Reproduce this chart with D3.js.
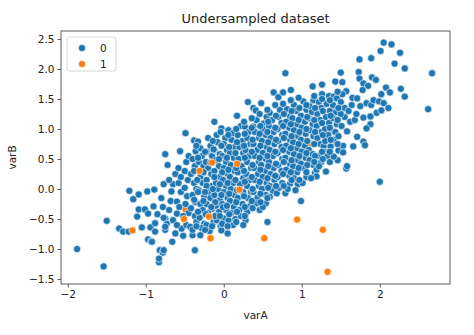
<!DOCTYPE html>
<html>
<head>
<meta charset="utf-8">
<script src="https://cdn.jsdelivr.net/npm/d3@7"></script>
<style>
  html, body { margin: 0; padding: 0; background: #fff; }
  svg { display: block; font-family: "DejaVu Sans", sans-serif; }
</style>
</head>
<body>
<svg id="chart" width="474" height="335"></svg>
<script>
// class 0 samples: [varA, varB]
const class0 = [
  [-1.88,-1.00],[-1.54,-1.29],[-1.50,-0.53],
  [-1.34,-0.66],[-1.29,-0.71],[-1.22,-0.71],[-1.21,-0.03],
  [-1.16,-0.17],[-1.11,-0.46],[-1.09,-0.34],[-1.09,-0.09],[-1.05,-0.64],
  [-1.01,-0.34],[-0.98,-0.04],[-0.97,-0.41],[-0.97,-0.84],[-0.94,-0.64],[-0.93,-0.87],[-0.92,-0.88],
  [-0.89,-0.01],[-0.90,-0.29],[-0.85,-0.42],[-0.88,-0.71],[-0.88,-0.57],[-0.82,-1.02],[-0.78,-1.06],[-0.83,-1.22],[-0.83,-1.16],
  [-0.77,0.08],[-0.75,0.58],[-0.72,0.40],[-0.75,-0.49],[-0.75,-0.68],[-0.73,-0.58],[-0.77,-0.48],[-0.77,-1.02],[-0.75,-0.63],[-0.80,-0.15],[-0.78,-0.30],
  [-0.65,0.08],[-0.67,-0.04],[-0.62,0.25],[-0.65,-0.52],[-0.62,-0.74],[-0.68,-0.20],[-0.70,-0.35],[-0.66,-0.88],[-0.70,0.15],
  [-0.60,-0.21],[-0.60,-0.41],[-0.56,0.63],[-0.58,0.10],[-0.55,-0.05],[-0.57,-0.30],[-0.54,-0.66],[-0.52,-0.78],[-0.58,0.35],[-0.55,0.20],[-0.60,-0.60],
  [-0.49,0.93],[-0.48,0.45],[-0.50,0.30],[-0.46,0.15],[-0.50,0.02],[-0.47,-0.12],[-0.49,-0.25],[-0.45,-0.40],[-0.52,-0.45],[-0.48,-0.60],[-0.43,-0.63],[-0.40,-0.77],[-0.45,0.55],
  [-0.38,0.81],[-0.36,0.63],[-0.40,0.50],[-0.37,0.38],[-0.42,0.25],[-0.38,0.10],[-0.35,0.00],[-0.40,-0.10],[-0.36,-0.22],[-0.42,-0.32],[-0.37,-0.45],[-0.35,-0.55],[-0.37,-1.02],[-0.40,-0.68],
  [-0.33,0.79],[-0.30,0.68],[-0.28,0.55],[-0.32,0.45],[-0.26,0.38],[-0.30,0.20],[-0.27,0.10],[-0.32,-0.02],[-0.25,-0.12],[-0.30,-0.25],[-0.27,-0.35],[-0.31,-0.48],[-0.25,-0.58],[-0.30,-0.77],[-0.28,-0.65],
  [-0.20,0.85],[-0.17,0.72],[-0.22,0.62],[-0.15,0.55],[-0.20,0.35],[-0.16,0.25],[-0.22,0.15],[-0.15,0.05],[-0.20,-0.05],[-0.17,-0.15],[-0.22,-0.25],[-0.15,-0.33],[-0.20,-0.40],[-0.13,-0.55],[-0.22,-0.60],[-0.18,-0.70],
  [-0.12,1.12],[-0.09,0.90],[-0.08,0.78],[-0.12,0.65],[-0.05,0.58],[-0.10,0.48],[-0.06,0.38],[-0.12,0.30],[-0.05,0.20],[-0.10,0.10],[-0.07,0.00],[-0.12,-0.10],[-0.05,-0.18],[-0.10,-0.28],[-0.06,-0.38],[-0.12,-0.45],[-0.09,-0.52],[-0.04,-0.62],
  [-0.03,1.01],[0.02,0.85],[0.00,0.75],[0.04,0.65],[-0.02,0.55],[0.03,0.45],[0.00,0.35],[0.05,0.25],[-0.01,0.15],[0.03,0.05],[0.00,-0.05],[0.05,-0.15],[-0.02,-0.25],[0.03,-0.35],[0.00,-0.49],[-0.03,-0.69],[0.05,-0.74],[0.06,-0.52],
  [0.06,0.98],[0.12,0.93],[0.10,0.82],[0.14,0.70],[0.08,0.60],[0.13,0.52],[0.09,0.40],[0.14,0.30],[0.08,0.20],[0.12,0.10],[0.09,0.00],[0.14,-0.10],[0.08,-0.20],[0.13,-0.30],[0.10,-0.40],[0.12,-0.60],[0.15,-0.50],
  [0.17,1.22],[0.22,1.05],[0.18,0.90],[0.24,0.80],[0.20,0.70],[0.25,0.60],[0.19,0.50],[0.23,0.38],[0.18,0.28],[0.25,0.18],[0.21,0.08],[0.25,-0.05],[0.18,-0.15],[0.24,-0.25],[0.20,-0.35],[0.28,-0.52],[0.25,-0.60],[0.22,-0.45],
  [0.31,1.45],[0.27,1.04],[0.32,0.95],[0.30,0.85],[0.34,0.75],[0.28,0.65],[0.33,0.55],[0.30,0.45],[0.35,0.35],[0.29,0.25],[0.33,0.15],[0.30,0.05],[0.35,-0.05],[0.31,-0.15],[0.34,-0.28],[0.30,-0.38],
  [0.38,1.35],[0.41,1.31],[0.38,1.04],[0.42,1.15],[0.40,0.95],[0.45,0.85],[0.38,0.75],[0.43,0.65],[0.40,0.55],[0.45,0.45],[0.39,0.35],[0.44,0.25],[0.40,0.15],[0.45,0.05],[0.38,-0.05],[0.43,-0.15],[0.42,-0.24],[0.46,-0.35],
  [0.48,1.43],[0.51,1.09],[0.55,1.20],[0.50,1.00],[0.54,0.90],[0.49,0.80],[0.55,0.70],[0.50,0.60],[0.54,0.50],[0.48,0.40],[0.53,0.30],[0.50,0.20],[0.55,0.10],[0.49,0.00],[0.54,-0.10],[0.54,-0.24],[0.56,-0.55],[0.50,-0.30],
  [0.59,1.27],[0.64,1.61],[0.62,1.15],[0.58,1.05],[0.64,0.95],[0.60,0.85],[0.65,0.75],[0.59,0.65],[0.63,0.55],[0.58,0.45],[0.64,0.35],[0.60,0.25],[0.65,0.15],[0.59,0.05],[0.63,-0.03],[0.59,-0.13],[0.68,-0.07],
  [0.70,1.53],[0.72,1.32],[0.76,1.61],[0.70,1.20],[0.74,1.10],[0.69,1.00],[0.75,0.90],[0.70,0.80],[0.74,0.70],[0.69,0.60],[0.75,0.50],[0.70,0.40],[0.74,0.30],[0.69,0.20],[0.75,0.10],[0.71,0.02],
  [0.79,1.93],[0.81,1.33],[0.86,1.65],[0.85,1.21],[0.80,1.12],[0.84,1.02],[0.79,0.92],[0.85,0.82],[0.80,0.72],[0.84,0.62],[0.79,0.52],[0.85,0.42],[0.80,0.32],[0.84,0.22],[0.85,0.09],[0.79,-0.07],[0.82,0.00],
  [0.90,1.40],[0.93,1.30],[0.88,1.18],[0.94,1.08],[0.90,0.98],[0.95,0.88],[0.89,0.78],[0.94,0.68],[0.90,0.58],[0.95,0.48],[0.89,0.38],[0.94,0.28],[0.90,0.18],[0.95,0.08],[0.92,-0.02],
  [1.02,1.46],[1.06,1.32],[0.99,1.22],[1.04,1.12],[1.00,1.02],[1.05,0.92],[0.99,0.82],[1.04,0.72],[1.00,0.62],[1.05,0.52],[0.99,0.42],[1.04,0.34],[1.06,0.20],[0.99,-0.20],[1.01,0.10],
  [1.14,1.71],[1.15,1.48],[1.10,1.38],[1.13,1.28],[1.09,1.18],[1.14,1.08],[1.10,0.98],[1.15,0.88],[1.09,0.65],[1.14,0.58],[1.10,0.48],[1.15,0.40],[1.17,0.27],[1.19,0.32],[1.19,0.21],[1.12,0.18],
  [1.26,1.74],[1.26,1.58],[1.22,1.45],[1.25,1.35],[1.20,1.25],[1.24,1.15],[1.19,1.05],[1.25,0.95],[1.20,0.85],[1.24,0.75],[1.28,0.71],[1.29,0.62],[1.21,0.55],[1.25,0.45],[1.22,0.38],
  [1.31,0.29],[1.35,1.55],[1.32,1.42],[1.36,1.30],[1.31,1.20],[1.35,1.10],[1.30,1.00],[1.34,0.90],[1.30,0.80],[1.37,0.71],[1.33,0.55],[1.36,0.45],
  [1.43,1.79],[1.41,1.54],[1.45,1.51],[1.40,1.40],[1.44,1.28],[1.40,1.18],[1.45,1.08],[1.41,0.82],[1.47,0.64],[1.46,0.48],[1.41,0.54],[1.43,0.95],
  [1.50,1.94],[1.52,1.78],[1.57,1.63],[1.52,1.58],[1.50,1.45],[1.55,1.35],[1.51,1.05],[1.58,0.96],[1.53,0.72],[1.53,0.61],[1.57,0.34],[1.58,0.38],[1.55,1.20],[1.50,1.25],
  [1.64,1.40],[1.60,1.30],[1.62,1.12],[1.66,0.71],[1.65,1.52],
  [1.74,2.16],[1.73,1.95],[1.74,1.84],[1.71,1.51],[1.75,1.38],[1.68,1.15],[1.71,0.87],[1.70,1.25],
  [1.79,1.76],[1.85,1.72],[1.78,1.65],[1.83,1.43],[1.79,1.19],[1.88,1.21],[1.88,1.08],[1.83,1.01],[1.79,0.79],[1.81,0.73],
  [1.89,2.18],[1.90,1.86],[1.95,1.82],[1.89,1.40],[1.92,1.48],[1.99,1.46],[1.96,1.27],
  [2.05,2.44],[2.01,2.30],[2.08,1.69],[2.02,1.58],[2.05,1.43],[2.02,1.31],[2.00,0.12],
  [2.15,2.41],[2.19,2.09],[2.13,1.61],[2.11,1.35],
  [2.26,2.27],[2.32,2.01],[2.27,1.67],[2.32,1.54],[2.67,1.93],[2.62,1.33],
  // dense middle of the cloud
  [-0.35,0.72],[-0.33,0.52],[-0.38,0.30],[-0.34,0.15],[-0.33,-0.05],[-0.38,-0.18],[-0.33,-0.38],[-0.35,-0.62],
  [-0.24,0.62],[-0.23,0.45],[-0.26,0.28],[-0.22,0.05],[-0.24,-0.05],[-0.26,-0.20],[-0.23,-0.42],[-0.24,-0.68],
  [-0.14,0.80],[-0.13,0.66],[-0.17,0.44],[-0.12,0.20],[-0.14,0.00],[-0.11,-0.22],[-0.16,-0.30],[-0.11,-0.45],[-0.15,-0.62],
  [-0.04,0.95],[-0.03,0.72],[-0.06,0.50],[-0.02,0.28],[-0.05,0.08],[-0.03,-0.10],[-0.01,-0.30],[-0.05,-0.45],[-0.02,-0.58],
  [0.06,0.90],[0.07,0.70],[0.04,0.52],[0.06,0.32],[0.05,0.10],[0.07,-0.08],[0.04,-0.28],[0.07,-0.42],[0.05,-0.62],
  [0.16,1.00],[0.17,0.78],[0.15,0.60],[0.16,0.35],[0.15,0.15],[0.17,-0.02],[0.16,-0.22],[0.17,-0.38],[0.16,-0.55],
  [0.26,1.12],[0.27,0.92],[0.26,0.72],[0.27,0.52],[0.26,0.30],[0.27,0.12],[0.26,-0.12],[0.27,-0.30],[0.27,-0.45],
  [0.36,1.18],[0.36,1.02],[0.37,0.82],[0.36,0.62],[0.37,0.40],[0.36,0.20],[0.37,0.00],[0.36,-0.20],[0.37,-0.32],
  [0.46,1.25],[0.47,1.05],[0.46,0.92],[0.47,0.72],[0.46,0.52],[0.47,0.32],[0.46,0.12],[0.47,-0.08],[0.47,-0.22],
  [0.56,1.32],[0.57,1.12],[0.56,0.95],[0.57,0.78],[0.56,0.55],[0.57,0.38],[0.56,0.18],[0.57,0.02],[0.56,-0.15],
  [0.66,1.40],[0.67,1.22],[0.66,1.02],[0.67,0.82],[0.66,0.62],[0.67,0.42],[0.66,0.22],[0.67,0.05],
  [0.76,1.42],[0.77,1.25],[0.76,1.05],[0.77,0.85],[0.76,0.65],[0.77,0.45],[0.76,0.25],[0.77,0.05],
  [0.86,1.48],[0.87,1.30],[0.86,1.08],[0.87,0.88],[0.86,0.68],[0.87,0.48],[0.86,0.28],[0.87,0.15],
  [0.96,1.52],[0.97,1.35],[0.96,1.15],[0.97,0.95],[0.96,0.75],[0.97,0.55],[0.96,0.35],[0.97,0.15],
  [1.06,1.40],[1.07,1.20],[1.06,1.00],[1.07,0.80],[1.06,0.60],[1.07,0.40],[1.06,0.28],
  [1.16,1.55],[1.17,1.35],[1.16,1.15],[1.17,0.95],[1.16,0.75],[1.17,0.55],[1.16,0.45],
  [1.26,1.50],[1.27,1.30],[1.26,1.10],[1.27,0.90],[1.26,0.62],[1.27,0.50],
  [1.36,1.48],[1.37,1.22],[1.36,1.02],[1.37,0.82],[1.36,0.62],
  [1.46,1.62],[1.47,1.35],[1.46,1.15],[1.47,0.88],[1.46,0.75]
];

// class 1 samples drawn before class 0 (partly covered by the cloud)
const class1Under = [
  [1.42,1.33],[1.39,0.97],[1.11,0.76],[-0.49,-0.34]
];

// class 1 samples drawn on top
const class1 = [
  [-1.17,-0.69],[-0.15,0.44],[-0.31,0.30],[0.17,0.42],[0.20,-0.01],
  [-0.51,-0.50],[-0.19,-0.46],[-0.17,-0.82],[0.52,-0.82],[0.94,-0.51],
  [1.27,-0.68],[1.33,-1.38]
];

const classLabels = ["0", "1"];
const classColors = ["#1f77b4", "#ff7f0e"];
const xTicks = [-2, -1, 0, 1, 2];
const yTicks = [-1.5, -1.0, -0.5, 0.0, 0.5, 1.0, 1.5, 2.0, 2.5];

const svg = d3.select("#chart");
const margin = { left: 61, right: 24, top: 31, bottom: 51 };
const W = 474, H = 335;

const x = d3.scaleLinear().domain([-2.086, 2.90]).range([margin.left, W - margin.right]);
const y = d3.scaleLinear().domain([-1.583, 2.633]).range([H - margin.bottom, margin.top]);

const minus = s => s.replace("-", "\u2212");

// points, layered: hidden class 1, class 0, then visible class 1
const g = svg.append("g");
[[class1Under, 1], [class0, 0], [class1, 1]].forEach(([pts, k]) => {
  g.selectAll(null).data(pts).enter().append("circle")
    .attr("cx", d => x(d[0]))
    .attr("cy", d => y(d[1]))
    .attr("r", 3.6)
    .attr("fill", classColors[k])
    .attr("stroke", "#fff")
    .attr("stroke-width", 0.6);
});

// axes
const xAxis = d3.axisBottom(x).tickValues(xTicks).tickSize(3.5).tickPadding(3)
  .tickFormat(d => minus(d3.format("d")(d)));
const yAxis = d3.axisLeft(y).tickValues(yTicks).tickSize(3.5).tickPadding(3)
  .tickFormat(d => minus(d3.format(".1f")(d)));

const gx = svg.append("g").attr("transform", `translate(0,${H - margin.bottom})`).call(xAxis);
const gy = svg.append("g").attr("transform", `translate(${margin.left},0)`).call(yAxis);
[gx, gy].forEach(a => {
  a.select(".domain").remove();
  a.selectAll(".tick line").attr("stroke", "#333").attr("stroke-width", 0.8);
  a.selectAll(".tick text").attr("fill", "#222").style("font-size", "10.5px")
    .style("font-family", "'DejaVu Sans', sans-serif");
});

// frame
svg.append("rect")
  .attr("x", margin.left).attr("y", margin.top)
  .attr("width", W - margin.right - margin.left)
  .attr("height", H - margin.bottom - margin.top)
  .attr("fill", "none").attr("stroke", "#333").attr("stroke-width", 0.8);

// title and axis labels
svg.append("text").attr("x", (margin.left + W - margin.right) / 2).attr("y", 23)
  .attr("text-anchor", "middle").style("font-size", "13px").attr("fill", "#222")
  .text("Undersampled dataset");
svg.append("text").attr("x", (margin.left + W - margin.right) / 2).attr("y", 319)
  .attr("text-anchor", "middle").style("font-size", "10.5px").attr("fill", "#222")
  .text("varA");
svg.append("text")
  .attr("transform", `translate(16,${(margin.top + H - margin.bottom) / 2}) rotate(-90)`)
  .attr("text-anchor", "middle").style("font-size", "10.5px").attr("fill", "#222")
  .text("varB");

// legend
const lg = svg.append("g").attr("transform", `translate(${margin.left + 6},${margin.top + 6})`);
lg.append("rect").attr("width", 49).attr("height", 34).attr("rx", 2.5)
  .attr("fill", "#fff").attr("fill-opacity", 0.8)
  .attr("stroke", "#ccc").attr("stroke-width", 0.8);
classLabels.forEach((lab, i) => {
  const row = lg.append("g").attr("transform", `translate(0,${11 + i * 16})`);
  row.append("circle").attr("cx", 15).attr("cy", 0).attr("r", 3.6)
    .attr("fill", classColors[i]).attr("stroke", "#fff").attr("stroke-width", 0.6);
  row.append("text").attr("x", 33).attr("y", 4).style("font-size", "10.5px")
    .attr("fill", "#222").text(lab);
});
</script>
</body>
</html>
